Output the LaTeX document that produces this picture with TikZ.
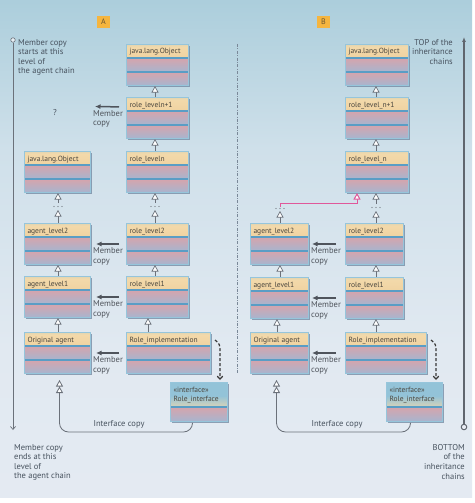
\documentclass[tikz,border=0pt]{standalone}
\usepackage{fontspec}
\setmainfont{PT Sans}
\usetikzlibrary{arrows.meta,shadows,calc}
\definecolor{bgA}{HTML}{E9EDF5}
\definecolor{bgB}{HTML}{E1E9F1}
\definecolor{bgC}{HTML}{CFE0EA}
\definecolor{bgD}{HTML}{A0C8D7}
\definecolor{bgE}{HTML}{5CA2BB}
\definecolor{hdtop}{HTML}{F3D9AA}
\definecolor{hdbot}{HTML}{E2B678}
\definecolor{ifhdtop}{HTML}{93C3D8}
\definecolor{rowtop}{HTML}{D6A4AC}
\definecolor{rowbot}{HTML}{A7B5CF}
\definecolor{sepc}{HTML}{5A9DC5}
\definecolor{boxedge}{HTML}{96C5DB}
\definecolor{shadowc}{HTML}{6E86A0}
\definecolor{hdtext}{HTML}{4A463E}
\definecolor{lbltext}{HTML}{47525E}
\definecolor{inhc}{HTML}{6B717A}
\definecolor{pinkc}{HTML}{E0589A}
\definecolor{memc}{HTML}{4F545C}
\definecolor{tagc}{HTML}{F5B53F}
\definecolor{tagtext}{HTML}{6A5530}
\definecolor{dividerc}{HTML}{7A8898}
\pgfdeclareverticalshading{bgsh}{100bp}{color(0bp)=(bgA); color(40bp)=(bgB); color(60bp)=(bgC); color(80bp)=(bgD); color(100bp)=(bgE)}
\pgfdeclareverticalshading{hdsh}{100bp}{color(0bp)=(hdbot); color(72bp)=(hdtop); color(90bp)=(ifhdtop); color(100bp)=(ifhdtop)}
\pgfdeclareverticalshading{ifhdsh}{100bp}{color(0bp)=(hdbot); color(38bp)=(hdtop); color(58bp)=(ifhdtop); color(100bp)=(ifhdtop)}
\tikzset{
  umlbox/.style={rectangle, draw=boxedge, line width=1pt, anchor=north west,
    inner xsep=3pt, inner ysep=0pt, text height=9.5pt, text depth=31.5pt,
    align=left, font=\fontsize{7.5}{9}\selectfont, text=hdtext,
    drop shadow={shadow xshift=1.6pt, shadow yshift=-1.6pt, fill=shadowc, opacity=0.75},
    path picture={
      \path[shading=hdsh] (path picture bounding box.north west) rectangle ([yshift=-13.5pt]path picture bounding box.north east);
      \path[top color=rowtop, bottom color=rowbot] ([yshift=-13.5pt]path picture bounding box.north west) rectangle ([yshift=-27.5pt]path picture bounding box.north east);
      \path[top color=rowtop, bottom color=rowbot] ([yshift=-27.5pt]path picture bounding box.north west) rectangle (path picture bounding box.south east);
      \draw[sepc, line width=1.1pt] ([yshift=-13.5pt]path picture bounding box.north west) -- ([yshift=-13.5pt]path picture bounding box.north east);
      \draw[sepc, line width=1.1pt] ([yshift=-27.5pt]path picture bounding box.north west) -- ([yshift=-27.5pt]path picture bounding box.north east);
    }},
  ifbox/.style={rectangle, draw=boxedge, line width=1pt, anchor=north west,
    inner xsep=3pt, inner ysep=0pt, text height=10pt, text depth=29pt,
    align=left, font=\fontsize{7.5}{9}\selectfont, text=hdtext,
    drop shadow={shadow xshift=1.6pt, shadow yshift=-1.6pt, fill=shadowc, opacity=0.75},
    path picture={
      \path[shading=ifhdsh] (path picture bounding box.north west) rectangle ([yshift=-24.5pt]path picture bounding box.north east);
      \path[top color=rowtop, bottom color=rowbot] ([yshift=-24.5pt]path picture bounding box.north west) rectangle (path picture bounding box.south east);
      \draw[sepc, line width=1.1pt] ([yshift=-24.5pt]path picture bounding box.north west) -- ([yshift=-24.5pt]path picture bounding box.north east);
    }},
  inh/.style={draw=inhc, line width=0.7pt, -{Triangle[width=7pt,length=6.5pt,fill=white]}},
  pinkarr/.style={draw=pinkc, line width=1pt, -{Triangle[width=7pt,length=6.5pt,fill=white]}},
  memcopy/.style={draw=memc, line width=1.5pt, -{Latex[length=5.5pt,width=5pt]}},
  memlbl/.style={anchor=north west, inner sep=0pt, align=left, font=\fontsize{8.5}{9.8}\selectfont, text=memc},
  desc/.style={inner sep=0pt, font=\fontsize{8.5}{9.6}\selectfont, text=lbltext},
  dotc/.style={fill=inhc},
  ifcopy/.style={draw=inhc, line width=0.8pt, -{Triangle[width=7pt,length=6.5pt,fill=white] Triangle[width=7pt,length=6.5pt,fill=white]}},
  dasharr/.style={draw=black!78, line width=1.2pt, dash pattern=on 3pt off 2pt, -{Straight Barb[length=3pt,width=5.5pt]}},
  tag/.style={fill=tagc, minimum width=13pt, minimum height=12.5pt, inner sep=0pt, font=\fontsize{8}{9}\selectfont, text=tagtext},
}
\begin{document}
\begin{tikzpicture}[x=1pt,y=-1pt]
\useasboundingbox (0,0) rectangle (474,503);
\fill[white] (0,0) rectangle (474,503);
\shade[shading=bgsh] (0,0) rectangle (472,497);

% tags
\node[tag] (tagA) at (103.5,22) {A};
\node[tag] (tagB) at (323.5,22) {B};

% divider
\coordinate (dvt) at (237,44);
\coordinate (dvb) at (237,373);
\draw[dividerc, line width=0.7pt, dash pattern=on 3pt off 1.5pt on 0.8pt off 1.5pt] (dvt) -- (dvb);

% ---- A ----
\node[umlbox, text width=56pt] (objA) at (126,44) {java.lang.Object};
\node[umlbox, text width=56pt] (rn1A) at (126,97) {role\_leveln+1};
\node[umlbox, text width=56pt] (rnA) at (126,151) {role\_leveln};
\node[umlbox, text width=60pt] (objAL) at (24,151) {java.lang.Object};
\node[umlbox, text width=60pt] (al2A) at (24,223) {agent\_level2};
\node[umlbox, text width=56pt] (rl2A) at (126,223) {role\_level2};
\node[umlbox, text width=60pt] (al1A) at (24,276) {agent\_level1};
\node[umlbox, text width=56pt] (rl1A) at (126,276) {role\_level1};
\node[umlbox, text width=60pt] (origA) at (24,332) {Original agent};
\node[umlbox, text width=78pt] (rimpA) at (126,332) {Role\_implementation};
\node[ifbox, text width=51pt] (rifA) at (170,382) {«interface»\\Role\_interface};

% ---- B ----
\node[umlbox, text width=57pt] (objB) at (345,44) {java.lang.Object};
\node[umlbox, text width=57pt] (rn1B) at (345,97) {role\_level\_n+1};
\node[umlbox, text width=57pt] (rnB) at (345,151) {role\_level\_n};
\node[umlbox, text width=52pt] (al2B) at (250,223) {agent\_level2};
\node[umlbox, text width=52pt] (rl2B) at (345,223) {role\_level2};
\node[umlbox, text width=52pt] (al1B) at (250,277) {agent\_level1};
\node[umlbox, text width=52pt] (rl1B) at (345,277) {role\_level1};
\node[umlbox, text width=52pt] (origB) at (250,332) {Original agent};
\node[umlbox, text width=75pt] (rimpB) at (345,332) {Role\_implementation};
\node[ifbox, text width=50pt] (rifB) at (386,382) {«interface»\\Role\_interface};

% column x coordinates
\coordinate (xRA) at (155,0);
\coordinate (xRA2) at (148,0);
\coordinate (xAA) at (58,0);
\coordinate (xRB) at (376,0);
\coordinate (xAB) at (280,0);
\coordinate (xAB2) at (277,0);
\coordinate (xPB) at (357,0);

% inheritance A
\draw[inh] (rn1A.north -| xRA) -- (objA.south -| xRA);
\draw[inh] (rnA.north -| xRA) -- (rn1A.south -| xRA);
\coordinate (dRA1) at (155,210);
\coordinate (dRA2) at (155,203);
\draw[inh] (rl2A.north -| xRA) -- (dRA1);
\draw[inh] (dRA2) -- (rnA.south -| xRA);
\foreach \dx in {-4,0,4} \fill[dotc] (155+\dx,206.5) circle (0.55);
\draw[inh] (rl1A.north -| xRA) -- (rl2A.south -| xRA);
\draw[inh] (rimpA.north -| xRA2) -- (rl1A.south -| xRA2);
\coordinate (dAA1) at (58,210);
\coordinate (dAA2) at (58,203);
\draw[inh] (al2A.north -| xAA) -- (dAA1);
\draw[inh] (dAA2) -- (objAL.south -| xAA);
\foreach \dx in {-4,0,4} \fill[dotc] (58+\dx,206.5) circle (0.55);
\draw[inh] (al1A.north -| xAA) -- (al2A.south -| xAA);
\draw[inh] (origA.north -| xAA) -- (al1A.south -| xAA);

% inheritance B
\draw[inh] (rn1B.north -| xRB) -- (objB.south -| xRB);
\draw[inh] (rnB.north -| xRB) -- (rn1B.south -| xRB);
\coordinate (dRB1) at (376,211);
\coordinate (dRB2) at (376,204);
\draw[inh] (rl2B.north -| xRB) -- (dRB1);
\draw[inh] (dRB2) -- (rnB.south -| xRB);
\foreach \dx in {-4,0,4} \fill[dotc] (376+\dx,207.5) circle (0.55);
\draw[inh] (rl1B.north -| xRB) -- (rl2B.south -| xRB);
\draw[inh] (rimpB.north -| xRB) -- (rl1B.south -| xRB);
\coordinate (dAB1) at (280,211);
\coordinate (pB1) at (280,207);
\coordinate (pB2) at (280,203);
\coordinate (pB3) at (357,203);
\draw[inh] (al2B.north -| xAB) -- (dAB1);
\draw[pinkarr] (pB1) -- (pB2) -- (pB3) -- (rnB.south -| xPB);
\foreach \dx in {-4,0,4} \fill[dotc] (280+\dx,208.5) circle (0.55);
\draw[inh] (al1B.north -| xAB) -- (al2B.south -| xAB);
\draw[inh] (origB.north -| xAB2) -- (al1B.south -| xAB2);

% member copy A
\node[desc] (q) at (55,113) {?};
\coordinate (mcA1) at (95,106.5);
\draw[memcopy, shorten <=7pt] ([yshift=11pt]rn1A.west) -- (mcA1);
\node[memlbl] (mlA1) at (93,110) {Member\\copy};
\draw[memcopy, shorten <=7pt, shorten >=5pt] (rl2A.west) -- (al2A.east);
\node[memlbl] (mlA2) at (93,247.5) {Member\\copy};
\draw[memcopy, shorten <=7pt, shorten >=5pt] (rl1A.west) -- (al1A.east);
\node[memlbl] (mlA3) at (93,300.5) {Member\\copy};
\draw[memcopy, shorten <=7pt, shorten >=5pt] (rimpA.west) -- (origA.east);
\node[memlbl] (mlA4) at (93,356.5) {Member\\copy};

% member copy B
\draw[memcopy, shorten <=9pt, shorten >=3pt] (rl2B.west) -- (al2B.east);
\node[memlbl] (mlB2) at (311,247.5) {Member\\copy};
\draw[memcopy, shorten <=9pt, shorten >=3pt] (rl1B.west) -- (al1B.east);
\node[memlbl] (mlB3) at (311,301.5) {Member\\copy};
\draw[memcopy, shorten <=9pt, shorten >=3pt] (rimpB.west) -- (origB.east);
\node[memlbl] (mlB4) at (311,356.5) {Member\\copy};

% dashed realisation arrows
\draw[dasharr] ([xshift=4pt,yshift=13pt]rimpA.east) .. controls ([xshift=9pt,yshift=9pt]rimpA.east) .. ([xshift=9pt,yshift=-2pt]rimpA.east) -- ([xshift=-8pt,yshift=2pt]rifA.north east);
\draw[dasharr] ([xshift=4pt,yshift=13pt]rimpB.east) .. controls ([xshift=9pt,yshift=9pt]rimpB.east) .. ([xshift=9pt,yshift=-2pt]rimpB.east) -- ([xshift=-7pt,yshift=2pt]rifB.north east);

% interface copy
\draw[ifcopy, rounded corners=9pt] ([xshift=-6.5pt,yshift=-2pt]rifA.south) |- ([xshift=2pt,yshift=-58pt]origA.south) -- ([xshift=2pt,yshift=-6pt]origA.south);
\node[desc] (icA) at (119,424) {Interface copy};
\draw[ifcopy, rounded corners=9pt] ([xshift=-4pt,yshift=-2pt]rifB.south) |- ([xshift=-3pt,yshift=-58pt]origB.south) -- ([xshift=-3pt,yshift=-6pt]origB.south);
\node[desc] (icB) at (337,424) {Interface copy};

% side lines
\node[circle, draw=inhc, fill=bgC!50!white, line width=0.6pt, inner sep=0pt, minimum size=4.5pt] (lc) at (13,40) {};
\coordinate (lbot) at (13,430);
\draw[inhc, line width=0.7pt, -{Straight Barb[length=3pt,width=5pt]}] (lc) -- (lbot);
\node[desc, anchor=north west, align=left] (ltext) at (18,39) {Member copy\\starts at this\\level of\\the agent chain};
\node[desc, anchor=north west, align=left] (lbtext) at (14,444) {Member copy\\ends at this\\level of\\the agent chain};

\node[circle, draw=inhc!90!black, fill=bgA, line width=1pt, inner sep=0pt, minimum size=5.5pt] (rc) at (464,427) {};
\coordinate (rtop) at (464,37);
\draw[inhc!90!black, line width=1.3pt, -{Latex[length=5pt,width=4pt]}] (rc) -- (rtop);
\node[desc, anchor=north east, align=right] (rtext) at (453,39) {TOP of the\\inheritance\\chains};
\node[desc, anchor=north east, align=right] (rbtext) at (465,444) {BOTTOM\\of the\\inheritance\\chains};
\end{tikzpicture}
\end{document}
